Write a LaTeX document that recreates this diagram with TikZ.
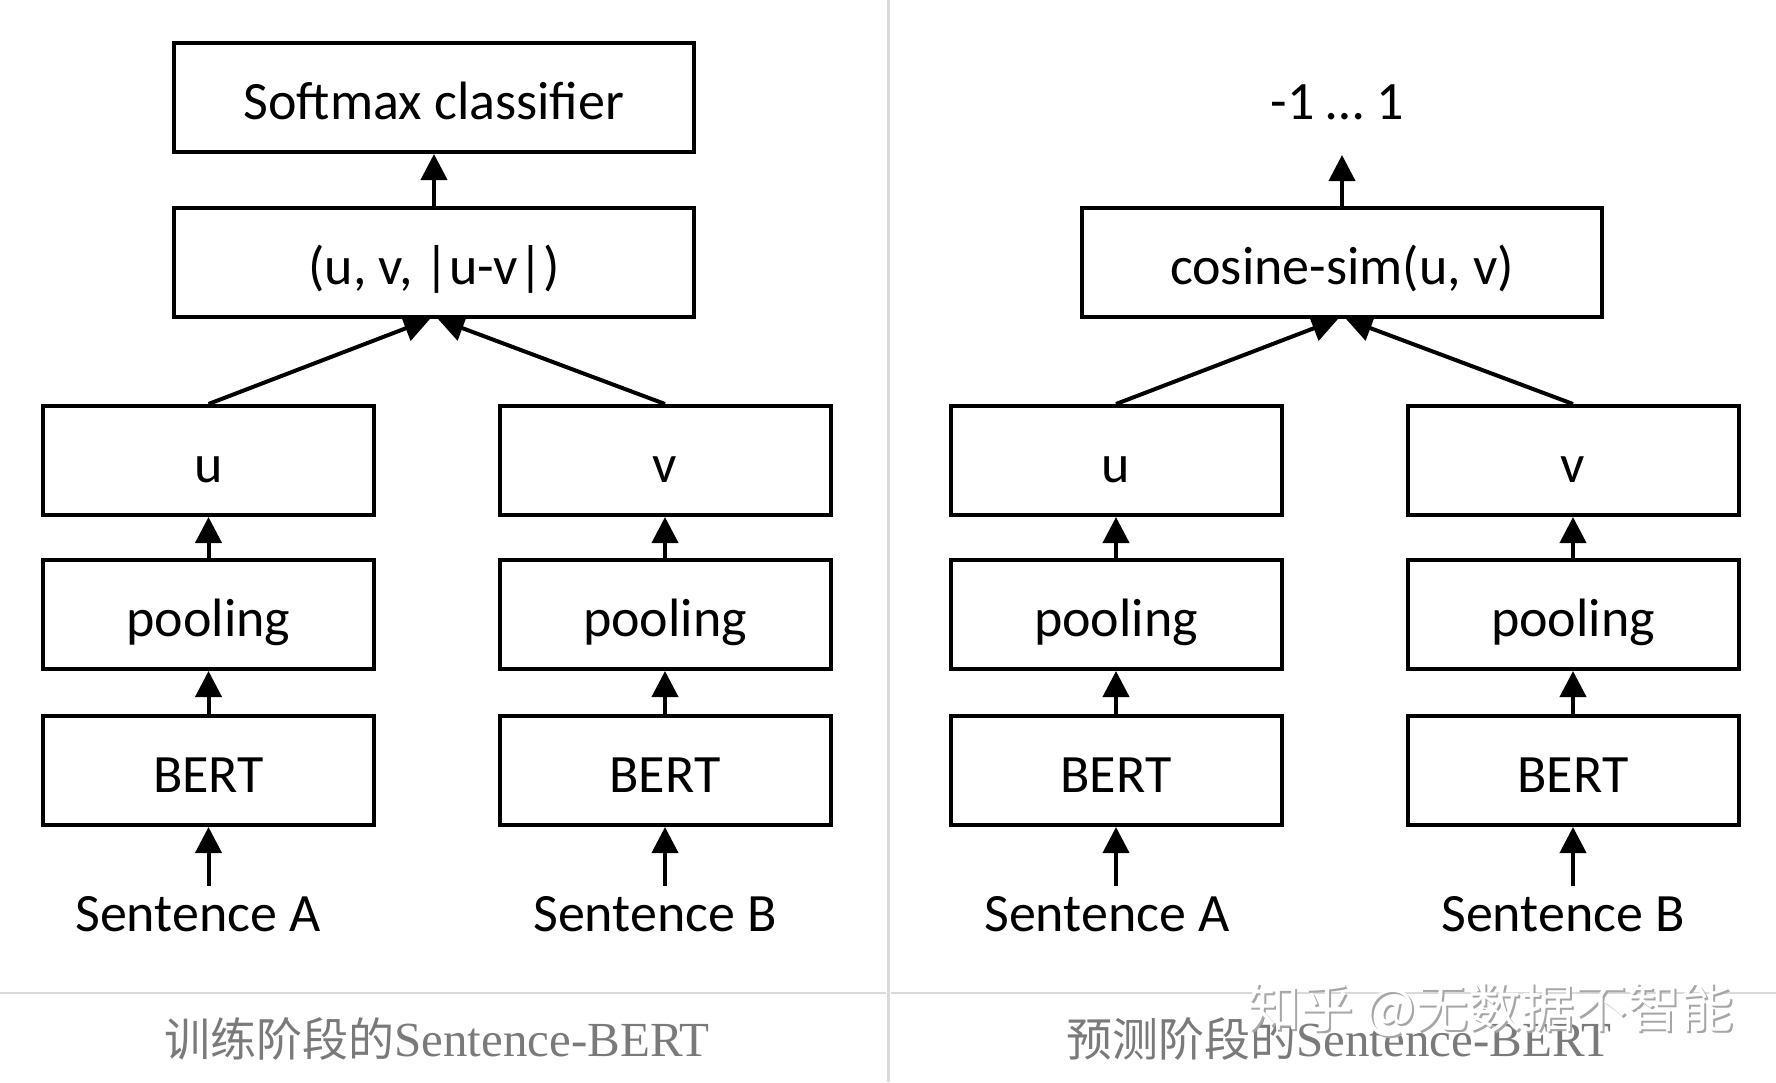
\documentclass[tikz,border=0pt]{standalone}
\usepackage{fontspec}
\setmainfont{Carlito}
\newfontfamily\cjk{Noto Sans CJK SC}
\newfontfamily\capserif{Liberation Serif}
\usetikzlibrary{arrows.meta,calc}
\definecolor{capgray}{HTML}{7A7A7A}
\definecolor{sepgray}{HTML}{DADADA}
\begin{document}
\begin{tikzpicture}[x=1pt,y=-1pt,
  blk/.style={draw=black, line width=4pt, minimum width=331pt, minimum height=109pt,
    inner sep=0pt, font=\fontsize{54}{60}\selectfont, text height=48.6pt, text depth=4.6pt},
  wide/.style={blk, minimum width=520pt},
  lbl/.style={inner sep=0pt, font=\fontsize{54}{60}\selectfont, text height=48.6pt, text depth=4.6pt},
  arr/.style={line width=4pt, -{Triangle[length=26pt,width=26pt]}},
  captxt/.style={text=capgray, inner sep=0pt},
  wm/.style={inner sep=0pt, font=\cjk\fontsize{53}{58}\selectfont},
]
\fill[white] (0,0) rectangle (1776,1082);
\useasboundingbox (0,0) rectangle (1776,1082);

% separators
\draw[sepgray, line width=3pt] (888,0) -- (888,1082);
\draw[sepgray, line width=2pt] (0,993) -- (886,993);
\draw[sepgray, line width=2pt] (891,993) -- (1776,993);

% ---------- left panel ----------
\node[wide] (soft) at (434,97.5) {Softmax classifier};
\node[wide] (comb) at (434,262.5) {(u, v, |u-v|)};
\node[blk] (uL) at (208.5,460.5) {u};
\node[blk] (vL) at (665,460.5) {v};
\node[blk] (pLa) at (208.5,614.5) {pooling};
\node[blk] (pLb) at (665,614.5) {pooling};
\node[blk] (bLa) at (208.5,770.5) {BERT};
\node[blk] (bLb) at (665,770.5) {BERT};
\node[lbl] (sLa) at (198,909) {Sentence A};
\node[lbl] (sLb) at (655,909) {Sentence B};

\draw[arr] (comb.north) -- (soft.south);
\draw[arr] (uL.north) -- ($(comb.south)+(-4,0)$);
\draw[arr] (vL.north) -- ($(comb.south)+(4,0)$);
\draw[arr] (pLa.north) -- (uL.south);
\draw[arr] (pLb.north) -- (vL.south);
\draw[arr] (bLa.north) -- (pLa.south);
\draw[arr] (bLb.north) -- (pLb.south);
\draw[arr] ($(bLa |- sLa.north)+(0,4)$) -- (bLa.south);
\draw[arr] ($(bLb |- sLb.north)+(0,4)$) -- (bLb.south);

% ---------- right panel ----------
\node[lbl] (out) at (1337,97.5) {-1 … 1};
\coordinate (outarr) at (1342,155);
\node[wide] (cos) at (1342,262.5) {cosine-sim(u, v)};
\node[blk] (uR) at (1116,460.5) {u};
\node[blk] (vR) at (1573,460.5) {v};
\node[blk] (pRa) at (1116,614.5) {pooling};
\node[blk] (pRb) at (1573,614.5) {pooling};
\node[blk] (bRa) at (1116,770.5) {BERT};
\node[blk] (bRb) at (1573,770.5) {BERT};
\node[lbl] (sRa) at (1107,909) {Sentence A};
\node[lbl] (sRb) at (1563,909) {Sentence B};

\draw[arr] (cos.north) -- (outarr);
\draw[arr] (uR.north) -- ($(cos.south)+(-4,0)$);
\draw[arr] (vR.north) -- ($(cos.south)+(4,0)$);
\draw[arr] (pRa.north) -- (uR.south);
\draw[arr] (pRb.north) -- (vR.south);
\draw[arr] (bRa.north) -- (pRa.south);
\draw[arr] (bRb.north) -- (pRb.south);
\draw[arr] ($(bRa |- sRa.north)+(0,4)$) -- (bRa.south);
\draw[arr] ($(bRb |- sRb.north)+(0,4)$) -- (bRb.south);

% ---------- captions ----------
\node[captxt] (capL) at (437,1039) {\cjk\fontsize{46}{50}\selectfont 训练阶段的\capserif\fontsize{49}{52}\selectfont Sentence-BERT};
\node[captxt] (capR) at (1339,1039) {\cjk\fontsize{46}{50}\selectfont 预测阶段的\capserif\fontsize{49}{52}\selectfont Sentence-BERT};

% ---------- watermark ----------
\node[wm, text=black!35] (wmshadow) at (1492.5,1011.5) {知乎 @无数据不智能};
\node[wm, text=white] (wmtext) at (1490.5,1009.5) {知乎 @无数据不智能};
\end{tikzpicture}
\end{document}
